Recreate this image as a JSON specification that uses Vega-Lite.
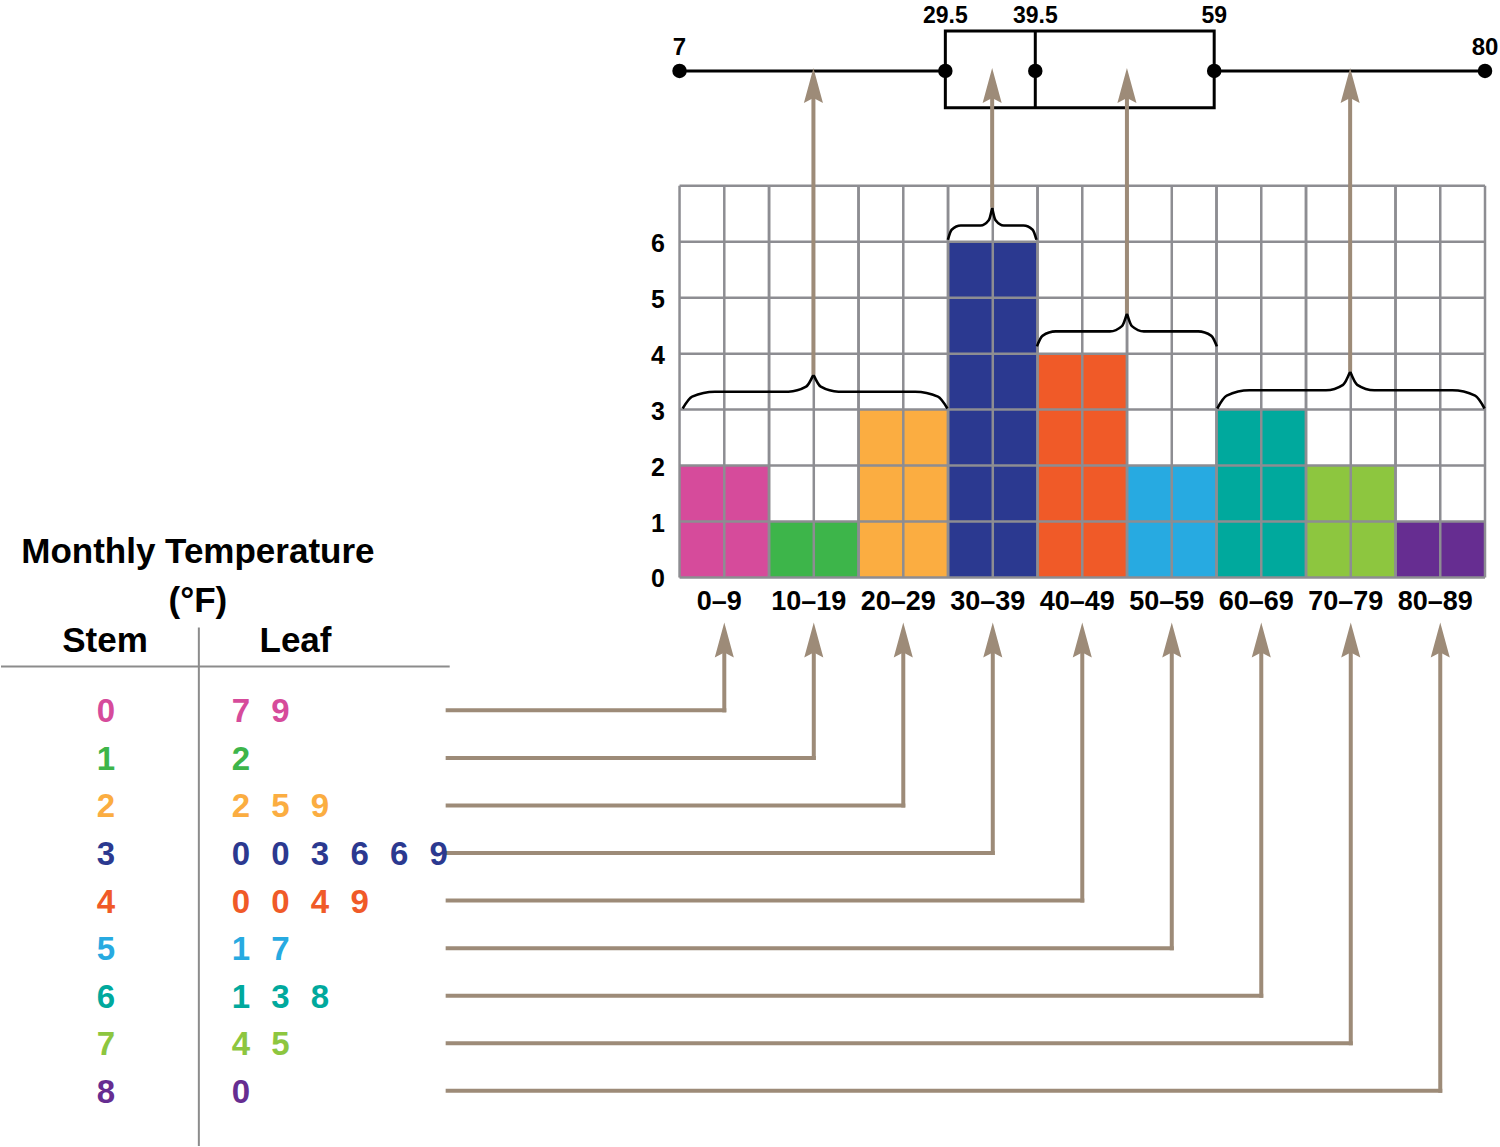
{
  "$schema": "https://vega.github.io/schema/vega-lite/v6.json",
  "width": 1500,
  "height": 1147,
  "autosize": {"type": "fit", "contains": "padding"},
  "padding": 0,
  "background": "white",
  "config": {
    "view": {"stroke": null},
    "text": {"font": "Liberation Sans", "fontWeight": "bold"}
  },
  "datasets": {
    "bins": [
      {"bin": "0–9", "stem": 0, "start": 0, "end": 10, "center": 5, "count": 2},
      {"bin": "10–19", "stem": 1, "start": 10, "end": 20, "center": 15, "count": 1},
      {"bin": "20–29", "stem": 2, "start": 20, "end": 30, "center": 25, "count": 3},
      {"bin": "30–39", "stem": 3, "start": 30, "end": 40, "center": 35, "count": 6},
      {"bin": "40–49", "stem": 4, "start": 40, "end": 50, "center": 45, "count": 4},
      {"bin": "50–59", "stem": 5, "start": 50, "end": 60, "center": 55, "count": 2},
      {"bin": "60–69", "stem": 6, "start": 60, "end": 70, "center": 65, "count": 3},
      {"bin": "70–79", "stem": 7, "start": 70, "end": 80, "center": 75, "count": 2},
      {"bin": "80–89", "stem": 8, "start": 80, "end": 90, "center": 85, "count": 1}
    ],
    "leaves": [
      {"stem": 0, "leaf": 7}, {"stem": 0, "leaf": 9},
      {"stem": 1, "leaf": 2},
      {"stem": 2, "leaf": 2}, {"stem": 2, "leaf": 5}, {"stem": 2, "leaf": 9},
      {"stem": 3, "leaf": 0}, {"stem": 3, "leaf": 0}, {"stem": 3, "leaf": 3}, {"stem": 3, "leaf": 6}, {"stem": 3, "leaf": 6}, {"stem": 3, "leaf": 9},
      {"stem": 4, "leaf": 0}, {"stem": 4, "leaf": 0}, {"stem": 4, "leaf": 4}, {"stem": 4, "leaf": 9},
      {"stem": 5, "leaf": 1}, {"stem": 5, "leaf": 7},
      {"stem": 6, "leaf": 1}, {"stem": 6, "leaf": 3}, {"stem": 6, "leaf": 8},
      {"stem": 7, "leaf": 4}, {"stem": 7, "leaf": 5},
      {"stem": 8, "leaf": 0}
    ],
    "levels": [{"n": 0}, {"n": 1}, {"n": 2}, {"n": 3}, {"n": 4}, {"n": 5}, {"n": 6}, {"n": 7}],
    "box": [
      {"stat": "min", "value": "7", "pos": 0},
      {"stat": "Q1", "value": "29.5", "pos": 29.7},
      {"stat": "median", "value": "39.5", "pos": 39.75},
      {"stat": "Q3", "value": "59", "pos": 59.74},
      {"stat": "max", "value": "80", "pos": 90}
    ],
    "braces": [
      {"seg": "A-L", "half": "L", "ord": 1, "u": 0.35, "c": 3.02},
      {"seg": "A-L", "half": "L", "ord": 2, "u": 1.405, "c": 3.232},
      {"seg": "A-L", "half": "L", "ord": 3, "u": 3.95, "c": 3.32},
      {"seg": "A-L", "half": "L", "ord": 4, "u": 12.16, "c": 3.32},
      {"seg": "A-L", "half": "L", "ord": 5, "u": 14.14, "c": 3.409},
      {"seg": "A-L", "half": "L", "ord": 6, "u": 14.96, "c": 3.625},
      {"seg": "A-R", "half": "R", "ord": 1, "u": 14.96, "c": 3.625},
      {"seg": "A-R", "half": "R", "ord": 2, "u": 15.78, "c": 3.409},
      {"seg": "A-R", "half": "R", "ord": 3, "u": 17.76, "c": 3.32},
      {"seg": "A-R", "half": "R", "ord": 4, "u": 26.33, "c": 3.32},
      {"seg": "A-R", "half": "R", "ord": 5, "u": 28.875, "c": 3.232},
      {"seg": "A-R", "half": "R", "ord": 6, "u": 29.93, "c": 3.02},
      {"seg": "B-L", "half": "L", "ord": 1, "u": 29.98, "c": 6.036},
      {"seg": "B-L", "half": "L", "ord": 2, "u": 30.405, "c": 6.216},
      {"seg": "B-L", "half": "L", "ord": 3, "u": 31.43, "c": 6.29},
      {"seg": "B-L", "half": "L", "ord": 4, "u": 33.63, "c": 6.29},
      {"seg": "B-L", "half": "L", "ord": 5, "u": 34.549, "c": 6.384},
      {"seg": "B-L", "half": "L", "ord": 6, "u": 34.93, "c": 6.61},
      {"seg": "B-R", "half": "R", "ord": 1, "u": 34.93, "c": 6.61},
      {"seg": "B-R", "half": "R", "ord": 2, "u": 35.311, "c": 6.384},
      {"seg": "B-R", "half": "R", "ord": 3, "u": 36.23, "c": 6.29},
      {"seg": "B-R", "half": "R", "ord": 4, "u": 38.43, "c": 6.29},
      {"seg": "B-R", "half": "R", "ord": 5, "u": 39.455, "c": 6.216},
      {"seg": "B-R", "half": "R", "ord": 6, "u": 39.88, "c": 6.036},
      {"seg": "C-L", "half": "L", "ord": 1, "u": 39.93, "c": 4.13},
      {"seg": "C-L", "half": "L", "ord": 2, "u": 40.545, "c": 4.319},
      {"seg": "C-L", "half": "L", "ord": 3, "u": 42.03, "c": 4.398},
      {"seg": "C-L", "half": "L", "ord": 4, "u": 48.09, "c": 4.398},
      {"seg": "C-L", "half": "L", "ord": 5, "u": 49.433, "c": 4.492},
      {"seg": "C-L", "half": "L", "ord": 6, "u": 49.99, "c": 4.72},
      {"seg": "C-R", "half": "R", "ord": 1, "u": 49.99, "c": 4.72},
      {"seg": "C-R", "half": "R", "ord": 2, "u": 50.547, "c": 4.492},
      {"seg": "C-R", "half": "R", "ord": 3, "u": 51.89, "c": 4.398},
      {"seg": "C-R", "half": "R", "ord": 4, "u": 57.94, "c": 4.398},
      {"seg": "C-R", "half": "R", "ord": 5, "u": 59.425, "c": 4.319},
      {"seg": "C-R", "half": "R", "ord": 6, "u": 60.04, "c": 4.13},
      {"seg": "D-L", "half": "L", "ord": 1, "u": 60.08, "c": 3.02},
      {"seg": "D-L", "half": "L", "ord": 2, "u": 61.135, "c": 3.25},
      {"seg": "D-L", "half": "L", "ord": 3, "u": 63.68, "c": 3.345},
      {"seg": "D-L", "half": "L", "ord": 4, "u": 72.23, "c": 3.345},
      {"seg": "D-L", "half": "L", "ord": 5, "u": 74.139, "c": 3.443},
      {"seg": "D-L", "half": "L", "ord": 6, "u": 74.93, "c": 3.68},
      {"seg": "D-R", "half": "R", "ord": 1, "u": 74.93, "c": 3.68},
      {"seg": "D-R", "half": "R", "ord": 2, "u": 75.721, "c": 3.443},
      {"seg": "D-R", "half": "R", "ord": 3, "u": 77.63, "c": 3.345},
      {"seg": "D-R", "half": "R", "ord": 4, "u": 86.35, "c": 3.345},
      {"seg": "D-R", "half": "R", "ord": 5, "u": 88.895, "c": 3.25},
      {"seg": "D-R", "half": "R", "ord": 6, "u": 89.95, "c": 3.02}
    ]
  },
  "resolve": {"scale": {"x": "independent", "y": "independent"}},
  "layer": [
    {
      "layer": [
        {
          "data": {"name": "bins"},
          "mark": {"type": "rect"},
          "encoding": {
            "x": {"field": "start", "type": "quantitative", "scale": {"domain": [-75.818, 91.675], "zero": false, "nice": false}, "axis": null},
            "x2": {"field": "end"},
            "y": {"field": "count", "type": "quantitative", "scale": {"domain": [-10.161, 10.321], "zero": false, "nice": false}, "axis": null},
            "y2": {"datum": 0},
            "color": {"field": "stem", "type": "nominal", "scale": {"domain": [0, 1, 2, 3, 4, 5, 6, 7, 8], "range": ["#d64b9b", "#3db54a", "#fbad41", "#2b3990", "#f05a28", "#27aae1", "#00a99d", "#8dc63f", "#662d91"]}, "legend": null}
          }
        },
        {
          "data": {"name": "bins"},
          "transform": [{"fold": ["start", "center", "end"], "as": ["edge", "g"]}],
          "mark": {"type": "rule", "color": "#8d8d92", "strokeWidth": 2.5},
          "encoding": {
            "x": {"field": "g", "type": "quantitative", "scale": {"domain": [-75.818, 91.675], "zero": false, "nice": false}, "axis": null},
            "y": {"datum": 0, "scale": {"domain": [-10.161, 10.321], "zero": false, "nice": false}, "axis": null},
            "y2": {"datum": 7}
          }
        },
        {
          "data": {"name": "levels"},
          "mark": {"type": "rule", "color": "#8d8d92", "strokeWidth": 2.5},
          "encoding": {
            "y": {"field": "n", "type": "quantitative", "scale": {"domain": [-10.161, 10.321], "zero": false, "nice": false}, "axis": null},
            "x": {"datum": 0, "scale": {"domain": [-75.818, 91.675], "zero": false, "nice": false}, "axis": null},
            "x2": {"datum": 90}
          }
        },
        {
          "data": {"name": "levels"},
          "transform": [{"filter": "datum.n <= 6"}],
          "mark": {"type": "text", "fontSize": 25, "align": "center", "baseline": "middle", "dy": 2, "color": "black"},
          "encoding": {
            "x": {"datum": -2.4, "scale": {"domain": [-75.818, 91.675], "zero": false, "nice": false}, "axis": null},
            "y": {"field": "n", "type": "quantitative", "scale": {"domain": [-10.161, 10.321], "zero": false, "nice": false}, "axis": null},
            "text": {"field": "n", "type": "nominal"}
          }
        },
        {
          "data": {"name": "bins"},
          "mark": {"type": "text", "fontSize": 27, "align": "center", "baseline": "middle", "dx": -5, "color": "black"},
          "encoding": {
            "x": {"field": "center", "type": "quantitative", "scale": {"domain": [-75.818, 91.675], "zero": false, "nice": false}, "axis": null},
            "y": {"datum": -0.44, "scale": {"domain": [-10.161, 10.321], "zero": false, "nice": false}, "axis": null},
            "text": {"field": "bin", "type": "nominal"}
          }
        },
        {
          "data": {"name": "braces"},
          "mark": {"type": "line", "interpolate": "monotone", "color": "black", "strokeWidth": 2.6},
          "encoding": {
            "x": {"field": "u", "type": "quantitative", "scale": {"domain": [-75.818, 91.675], "zero": false, "nice": false}, "axis": null},
            "y": {"field": "c", "type": "quantitative", "scale": {"domain": [-10.161, 10.321], "zero": false, "nice": false}, "axis": null},
            "detail": {"field": "seg", "type": "nominal"},
            "order": {"field": "ord", "type": "quantitative"}
          }
        },
        {
          "data": {"name": "box"},
          "transform": [{"pivot": "stat", "value": "pos"}],
          "mark": {"type": "rect", "fill": "white", "stroke": "black", "strokeWidth": 3},
          "encoding": {
            "x": {"field": "Q1", "type": "quantitative", "scale": {"domain": [-75.818, 91.675], "zero": false, "nice": false}, "axis": null},
            "x2": {"field": "Q3"},
            "y": {"datum": 8.393, "scale": {"domain": [-10.161, 10.321], "zero": false, "nice": false}, "axis": null},
            "y2": {"datum": 9.768}
          }
        },
        {
          "data": {"name": "box"},
          "transform": [{"pivot": "stat", "value": "pos"}],
          "mark": {"type": "rule", "color": "black", "strokeWidth": 3},
          "encoding": {
            "x": {"field": "min", "type": "quantitative", "scale": {"domain": [-75.818, 91.675], "zero": false, "nice": false}, "axis": null},
            "x2": {"field": "Q1"},
            "y": {"datum": 9.054, "scale": {"domain": [-10.161, 10.321], "zero": false, "nice": false}, "axis": null}
          }
        },
        {
          "data": {"name": "box"},
          "transform": [{"pivot": "stat", "value": "pos"}],
          "mark": {"type": "rule", "color": "black", "strokeWidth": 3},
          "encoding": {
            "x": {"field": "Q3", "type": "quantitative", "scale": {"domain": [-75.818, 91.675], "zero": false, "nice": false}, "axis": null},
            "x2": {"field": "max"},
            "y": {"datum": 9.054, "scale": {"domain": [-10.161, 10.321], "zero": false, "nice": false}, "axis": null}
          }
        },
        {
          "data": {"name": "box"},
          "transform": [{"pivot": "stat", "value": "pos"}],
          "mark": {"type": "rule", "color": "black", "strokeWidth": 3},
          "encoding": {
            "x": {"field": "median", "type": "quantitative", "scale": {"domain": [-75.818, 91.675], "zero": false, "nice": false}, "axis": null},
            "y": {"datum": 8.393, "scale": {"domain": [-10.161, 10.321], "zero": false, "nice": false}, "axis": null},
            "y2": {"datum": 9.768}
          }
        },
        {
          "data": {"name": "braces"},
          "transform": [{"filter": "datum.half === 'L' && datum.ord === 6"}],
          "mark": {"type": "rule", "color": "#9d8b78", "strokeWidth": 4},
          "encoding": {
            "x": {"field": "u", "type": "quantitative", "scale": {"domain": [-75.818, 91.675], "zero": false, "nice": false}, "axis": null},
            "y": {"field": "c", "type": "quantitative", "scale": {"domain": [-10.161, 10.321], "zero": false, "nice": false}, "axis": null},
            "y2": {"datum": 8.62}
          }
        },
        {
          "data": {"name": "braces"},
          "transform": [{"filter": "datum.half === 'L' && datum.ord === 6"}],
          "mark": {"type": "point", "shape": "M0,-1L0.53,0.95L0,0.67L-0.53,0.95Z", "filled": true, "size": 1296, "color": "#9d8b78", "opacity": 1, "strokeWidth": 0},
          "encoding": {
            "x": {"field": "u", "type": "quantitative", "scale": {"domain": [-75.818, 91.675], "zero": false, "nice": false}, "axis": null},
            "y": {"datum": 8.786, "scale": {"domain": [-10.161, 10.321], "zero": false, "nice": false}, "axis": null}
          }
        },
        {
          "data": {"name": "box"},
          "mark": {"type": "point", "filled": true, "size": 210, "color": "black", "opacity": 1},
          "encoding": {
            "x": {"field": "pos", "type": "quantitative", "scale": {"domain": [-75.818, 91.675], "zero": false, "nice": false}, "axis": null},
            "y": {"datum": 9.054, "scale": {"domain": [-10.161, 10.321], "zero": false, "nice": false}, "axis": null}
          }
        },
        {
          "data": {"name": "box"},
          "transform": [{"filter": "datum.stat === 'min' || datum.stat === 'max'"}],
          "mark": {"type": "text", "fontSize": 24, "align": "center", "baseline": "alphabetic", "color": "black"},
          "encoding": {
            "x": {"field": "pos", "type": "quantitative", "scale": {"domain": [-75.818, 91.675], "zero": false, "nice": false}, "axis": null},
            "y": {"datum": 9.339, "scale": {"domain": [-10.161, 10.321], "zero": false, "nice": false}, "axis": null},
            "text": {"field": "value", "type": "nominal"}
          }
        },
        {
          "data": {"name": "box"},
          "transform": [{"filter": "datum.stat !== 'min' && datum.stat !== 'max'"}],
          "mark": {"type": "text", "fontSize": 23, "align": "center", "baseline": "alphabetic", "color": "black"},
          "encoding": {
            "x": {"field": "pos", "type": "quantitative", "scale": {"domain": [-75.818, 91.675], "zero": false, "nice": false}, "axis": null},
            "y": {"datum": 9.911, "scale": {"domain": [-10.161, 10.321], "zero": false, "nice": false}, "axis": null},
            "text": {"field": "value", "type": "nominal"}
          }
        }
      ]
    },
    {
      "resolve": {"scale": {"x": "independent"}},
      "layer": [
        {
          "data": {"values": [{}]},
          "mark": {"type": "rule", "color": "#8c8c8c", "strokeWidth": 2},
          "encoding": {
            "x": {"datum": -75.818, "scale": {"domain": [-75.818, 91.675], "zero": false, "nice": false}, "axis": null},
            "x2": {"datum": -25.68},
            "y": {"datum": -0.924, "scale": {"domain": [-14.937, 9.16], "reverse": true, "zero": false, "nice": false}, "axis": null}
          }
        },
        {
          "data": {"values": [{}]},
          "mark": {"type": "rule", "color": "#8c8c8c", "strokeWidth": 2},
          "encoding": {
            "x": {"datum": -53.71, "scale": {"domain": [-75.818, 91.675], "zero": false, "nice": false}, "axis": null},
            "y": {"datum": -1.744, "scale": {"domain": [-14.937, 9.16], "reverse": true, "zero": false, "nice": false}, "axis": null},
            "y2": {"datum": 9.16}
          }
        },
        {
          "data": {"values": [{}]},
          "mark": {"type": "text", "text": ["Monthly Temperature", "(°F)"], "fontSize": 35, "align": "center", "baseline": "alphabetic", "lineHeight": 49, "color": "black"},
          "encoding": {
            "x": {"datum": -53.82, "scale": {"domain": [-75.818, 91.675], "zero": false, "nice": false}, "axis": null},
            "y": {"datum": -3.109, "scale": {"domain": [-14.937, 9.16], "reverse": true, "zero": false, "nice": false}, "axis": null}
          }
        },
        {
          "data": {"values": [{}]},
          "mark": {"type": "text", "text": "Stem", "fontSize": 35, "align": "center", "baseline": "alphabetic", "color": "black"},
          "encoding": {
            "x": {"datum": -64.2, "scale": {"domain": [-75.818, 91.675], "zero": false, "nice": false}, "axis": null},
            "y": {"datum": -1.219, "scale": {"domain": [-14.937, 9.16], "reverse": true, "zero": false, "nice": false}, "axis": null}
          }
        },
        {
          "data": {"values": [{}]},
          "mark": {"type": "text", "text": "Leaf", "fontSize": 35, "align": "center", "baseline": "alphabetic", "color": "black"},
          "encoding": {
            "x": {"datum": -42.91, "scale": {"domain": [-75.818, 91.675], "zero": false, "nice": false}, "axis": null},
            "y": {"datum": -1.219, "scale": {"domain": [-14.937, 9.16], "reverse": true, "zero": false, "nice": false}, "axis": null}
          }
        },
        {
          "data": {"name": "bins"},
          "mark": {"type": "rule", "color": "#9d8b78", "strokeWidth": 4, "strokeCap": "square"},
          "encoding": {
            "x": {"field": "center", "type": "quantitative", "scale": {"domain": [-75.818, 91.675], "zero": false, "nice": false}, "axis": null},
            "x2": {"datum": -25.91},
            "y": {"field": "stem", "type": "quantitative", "scale": {"domain": [-14.937, 9.16], "reverse": true, "zero": false, "nice": false}, "axis": null}
          }
        },
        {
          "data": {"name": "bins"},
          "mark": {"type": "rule", "color": "#9d8b78", "strokeWidth": 4, "strokeCap": "square"},
          "encoding": {
            "x": {"field": "center", "type": "quantitative", "scale": {"domain": [-75.818, 91.675], "zero": false, "nice": false}, "axis": null},
            "y": {"field": "stem", "type": "quantitative", "scale": {"domain": [-14.937, 9.16], "reverse": true, "zero": false, "nice": false}, "axis": null},
            "y2": {"datum": -1.261}
          }
        },
        {
          "data": {"name": "bins"},
          "mark": {"type": "point", "shape": "M0,-1L0.53,0.95L0,0.67L-0.53,0.95Z", "filled": true, "size": 1296, "color": "#9d8b78", "opacity": 1, "strokeWidth": 0},
          "encoding": {
            "x": {"field": "center", "type": "quantitative", "scale": {"domain": [-75.818, 91.675], "zero": false, "nice": false}, "axis": null},
            "y": {"datum": -1.471, "scale": {"domain": [-14.937, 9.16], "reverse": true, "zero": false, "nice": false}, "axis": null}
          }
        },
        {
          "data": {"name": "bins"},
          "mark": {"type": "text", "fontSize": 33, "align": "center", "baseline": "middle", "dy": 2},
          "encoding": {
            "x": {"datum": -64.1, "scale": {"domain": [-75.818, 91.675], "zero": false, "nice": false}, "axis": null},
            "y": {"field": "stem", "type": "quantitative", "scale": {"domain": [-14.937, 9.16], "reverse": true, "zero": false, "nice": false}, "axis": null},
            "text": {"field": "stem", "type": "nominal"},
            "color": {"field": "stem", "type": "nominal", "scale": {"domain": [0, 1, 2, 3, 4, 5, 6, 7, 8], "range": ["#d64b9b", "#3db54a", "#fbad41", "#2b3990", "#f05a28", "#27aae1", "#00a99d", "#8dc63f", "#662d91"]}, "legend": null}
          }
        },
        {
          "data": {"name": "leaves"},
          "transform": [{"window": [{"op": "row_number", "as": "k"}], "groupby": ["stem"]}],
          "mark": {"type": "text", "fontSize": 33, "align": "center", "baseline": "middle", "dy": 2},
          "encoding": {
            "x": {"field": "k", "type": "quantitative", "scale": {"domain": [-5.061, 32.818], "zero": false, "nice": false}, "axis": null},
            "y": {"field": "stem", "type": "quantitative", "scale": {"domain": [-14.937, 9.16], "reverse": true, "zero": false, "nice": false}, "axis": null},
            "text": {"field": "leaf", "type": "nominal"},
            "color": {"field": "stem", "type": "nominal", "scale": {"domain": [0, 1, 2, 3, 4, 5, 6, 7, 8], "range": ["#d64b9b", "#3db54a", "#fbad41", "#2b3990", "#f05a28", "#27aae1", "#00a99d", "#8dc63f", "#662d91"]}, "legend": null}
          }
        }
      ]
    }
  ]
}
